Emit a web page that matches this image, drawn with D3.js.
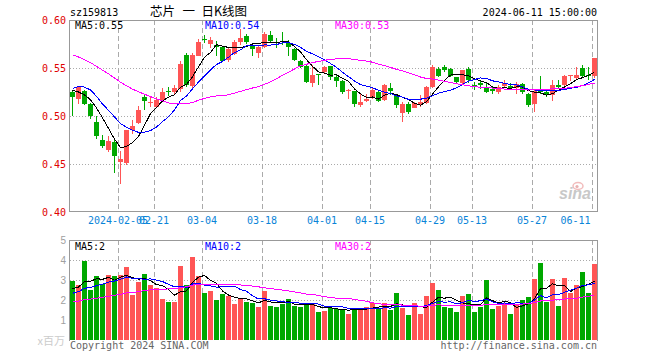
<!DOCTYPE html>
<html>
<head>
<meta charset="utf-8">
<script src="https://cdn.jsdelivr.net/npm/d3@7/dist/d3.min.js"></script>
<style>
  html, body { margin: 0; padding: 0; background: #fff; }
  svg { display: block; }
</style>
</head>
<body>
<div id="kline"></div>
<script>
(function () {
  const WIDTH  = 660;
  const HEIGHT = 360;
  const MONO   = "'DejaVu Sans Mono', 'Liberation Mono', monospace";
  const RED    = "#ff5555";
  const GREEN  = "#00a800";

  const code     = "sz159813";
  const stamp    = "2024-06-11 15:00:00";
  const titleParts = ["芯片", "一", "日K线图"];

  const dates = [
    "2024-01-24","2024-01-25","2024-01-26","2024-01-29","2024-01-30","2024-01-31","2024-02-01","2024-02-02",
    "2024-02-05","2024-02-06","2024-02-07","2024-02-08","2024-02-19","2024-02-20","2024-02-21","2024-02-22",
    "2024-02-23","2024-02-26","2024-02-27","2024-02-28","2024-02-29","2024-03-01","2024-03-04","2024-03-05",
    "2024-03-06","2024-03-07","2024-03-08","2024-03-11","2024-03-12","2024-03-13","2024-03-14","2024-03-15",
    "2024-03-18","2024-03-19","2024-03-20","2024-03-21","2024-03-22","2024-03-25","2024-03-26","2024-03-27",
    "2024-03-28","2024-03-29","2024-04-01","2024-04-02","2024-04-03","2024-04-08","2024-04-09","2024-04-10",
    "2024-04-11","2024-04-12","2024-04-15","2024-04-16","2024-04-17","2024-04-18","2024-04-19","2024-04-22",
    "2024-04-23","2024-04-24","2024-04-25","2024-04-26","2024-04-29","2024-04-30","2024-05-06","2024-05-07",
    "2024-05-08","2024-05-09","2024-05-10","2024-05-13","2024-05-14","2024-05-15","2024-05-16","2024-05-17",
    "2024-05-20","2024-05-21","2024-05-22","2024-05-23","2024-05-24","2024-05-27","2024-05-28","2024-05-29",
    "2024-05-30","2024-05-31","2024-06-03","2024-06-04","2024-06-05","2024-06-06","2024-06-07","2024-06-11"
  ];

  const open = [
    0.525,0.518,0.526,0.513,0.494,0.475,0.465,0.473,0.452,0.451,0.485,0.493,0.520,0.514,0.509,0.517,
    0.526,0.525,0.528,0.564,0.531,0.562,0.580,0.575,0.574,0.572,0.558,0.565,0.577,0.583,0.574,0.566,
    0.572,0.584,0.577,0.578,0.576,0.570,0.557,0.552,0.534,0.5435,0.546,0.552,0.541,0.536,0.526,0.526,
    0.511,0.516,0.520,0.525,0.517,0.529,0.522,0.503,0.512,0.508,0.512,0.514,0.530,0.549,0.551,0.549,
    0.541,0.534,0.549,0.532,0.534,0.530,0.528,0.525,0.531,0.531,0.529,0.533,0.523,0.512,0.527,0.525,
    0.522,0.532,0.532,0.542,0.540,0.550,0.543,0.542
  ];
  const high = [
    0.526,0.531,0.527,0.514,0.500,0.480,0.479,0.476,0.464,0.485,0.496,0.510,0.522,0.520,0.520,0.529,
    0.530,0.532,0.557,0.566,0.566,0.580,0.584,0.582,0.578,0.573,0.572,0.579,0.591,0.585,0.576,0.573,
    0.587,0.589,0.581,0.588,0.579,0.571,0.558,0.553,0.553,0.544,0.552,0.552,0.543,0.537,0.528,0.526,
    0.523,0.523,0.529,0.527,0.533,0.534,0.523,0.515,0.515,0.515,0.522,0.531,0.553,0.551,0.553,0.550,
    0.541,0.548,0.551,0.535,0.537,0.535,0.530,0.532,0.537,0.534,0.535,0.534,0.524,0.527,0.542,0.526,
    0.537,0.538,0.543,0.543,0.551,0.553,0.551,0.560
  ];
  const low = [
    0.500,0.512,0.511,0.497,0.476,0.467,0.462,0.441,0.429,0.449,0.481,0.492,0.506,0.509,0.508,0.515,
    0.521,0.523,0.525,0.530,0.529,0.562,0.576,0.571,0.563,0.556,0.556,0.564,0.574,0.575,0.562,0.560,
    0.571,0.577,0.571,0.574,0.563,0.557,0.550,0.534,0.530,0.532,0.545,0.537,0.530,0.523,0.518,0.509,
    0.509,0.515,0.518,0.515,0.516,0.522,0.508,0.494,0.502,0.508,0.509,0.513,0.529,0.541,0.546,0.541,
    0.534,0.533,0.534,0.527,0.528,0.524,0.523,0.523,0.530,0.527,0.523,0.523,0.509,0.504,0.523,0.520,
    0.516,0.529,0.531,0.536,0.539,0.541,0.537,0.540
  ];
  const close = [
    0.520,0.530,0.513,0.500,0.479,0.469,0.474,0.458,0.455,0.485,0.490,0.506,0.516,0.515,0.517,0.525,
    0.525,0.529,0.554,0.532,0.564,0.577,0.579,0.579,0.572,0.557,0.570,0.577,0.581,0.577,0.570,0.572,
    0.585,0.578,0.576,0.577,0.572,0.558,0.551,0.535,0.543,0.543,0.551,0.541,0.536,0.525,0.527,0.512,
    0.515,0.518,0.527,0.516,0.532,0.526,0.511,0.512,0.504,0.514,0.515,0.530,0.551,0.542,0.548,0.542,
    0.535,0.548,0.537,0.5315,0.532,0.525,0.526,0.530,0.534,0.529,0.533,0.525,0.511,0.526,0.525,0.522,
    0.532,0.530,0.542,0.5425,0.543,0.542,0.542,0.560
  ];
  // volume, millions
  const volume = [
    2.97,2.77,3.93,2.48,3.18,2.81,3.27,3.18,3.27,3.63,2.24,2.89,3.32,2.77,2.61,2.03,
    1.90,1.90,3.68,2.74,4.17,3.22,2.33,2.44,2.00,2.28,2.19,1.78,2.11,1.90,1.83,1.65,
    2.44,1.70,1.65,1.82,2.03,1.70,1.65,1.78,1.78,1.42,1.45,1.62,1.53,1.57,1.29,1.62,
    1.57,1.67,1.83,1.53,1.86,1.49,2.33,1.58,1.24,1.86,1.29,2.18,2.87,2.48,1.63,1.58,
    1.39,2.18,2.28,1.39,1.63,3.02,1.53,1.68,1.83,1.29,1.78,1.98,2.15,3.07,3.86,1.90,
    3.07,1.68,3.12,2.33,2.77,3.42,2.33,3.81
  ];

  // sessions before the window, estimated from where the MA lines start
  const priorClose = [
    0.600,0.597,0.594,0.592,0.590,0.588,0.587,0.588,0.596,0.594,0.592,0.590,0.591,0.589,0.588,0.585,
    0.560,0.545,0.535,0.525,0.510,0.520,0.530,0.545,0.550,0.538,0.528,0.525,0.522
  ];
  const priorVolume = [
    1.6,1.5,1.7,1.8,1.6,1.5,1.7,1.9,1.6,1.5,1.8,1.7,1.6,1.9,1.7,1.6,1.8,1.7,1.6,1.8,
    2.0,2.2,2.1,2.3,2.0,2.3,2.6,2.4,2.5
  ];

  const tickDates  = ["2024-02-05","2024-02-21","2024-03-04","2024-03-18","2024-04-01",
                      "2024-04-15","2024-04-29","2024-05-13","2024-05-27","2024-06-11"];
  const priceTicks = [0.40, 0.45, 0.50, 0.55, 0.60];
  const volTicks   = [1, 2, 3, 4, 5];
  const maPeriods  = [5, 10, 30];
  const maColors   = ["#000000", "#0000ff", "#ff00ff"];
  const priceMaLabels = ["MA5:0.55", "MA10:0.54", "MA30:0.53"];
  const volMaLabels   = ["MA5:2", "MA10:2", "MA30:2"];

  const N = close.length;
  const PLOT = { left: 70, right: 70 + 6 * N };

  const svg = d3.select("#kline").append("svg")
    .attr("width", WIDTH)
    .attr("height", HEIGHT)
    .attr("shape-rendering", "crispEdges");

  svg.append("rect").attr("width", WIDTH).attr("height", HEIGHT).attr("fill", "#fff");

  const x = d3.scaleLinear().domain([0, N]).range([PLOT.left, PLOT.right]);
  const yP = d3.scaleLinear().domain([0.40, 0.60]).range([212, 20]);
  const yV = d3.scaleLinear().domain([0, 5]).range([340, 240]);
  const step = x(1) - x(0);
  const bodyW = step - 1;
  const mid = i => x(i) + bodyW / 2;
  const idxOf = d => dates.indexOf(d);

  function movingAvg(prior, vals, n) {
    const all = prior.concat(vals);
    const off = prior.length;
    return vals.map((_, i) => d3.mean(all.slice(off + i - n + 1, off + i + 1)));
  }

  // ---- grid + frames ----
  const grid = svg.append("g");
  [0.45, 0.50, 0.55].forEach(v => {
    grid.append("line")
      .attr("x1", PLOT.left).attr("x2", PLOT.right)
      .attr("y1", Math.round(yP(v)) + 0.5).attr("y2", Math.round(yP(v)) + 0.5)
      .attr("stroke", "#aaa").attr("stroke-dasharray", "1,2");
  });
  volTicks.filter(v => v < 5).forEach(v => {
    grid.append("line")
      .attr("x1", PLOT.left).attr("x2", PLOT.right)
      .attr("y1", Math.round(yV(v)) + 0.5).attr("y2", Math.round(yV(v)) + 0.5)
      .attr("stroke", "#aaa").attr("stroke-dasharray", "1,2");
  });
  tickDates.forEach(d => {
    const gx = x(idxOf(d)) + 0.5;
    grid.append("line")
      .attr("x1", gx).attr("x2", gx).attr("y1", yP(0.60)).attr("y2", yP(0.40))
      .attr("stroke", "#aaa").attr("stroke-dasharray", "5,3");
    grid.append("line")
      .attr("x1", gx).attr("x2", gx).attr("y1", yV(5)).attr("y2", yV(0))
      .attr("stroke", "#aaa").attr("stroke-dasharray", "5,3");
  });

  const frame = svg.append("g").attr("stroke", "#999").attr("fill", "none");
  frame.append("path")
    .attr("d", `M${PLOT.left - 0.5},${yP(0.60) + 0.5}H${PLOT.right - 0.5}V${yP(0.40) - 0.5}H${PLOT.left - 0.5}Z`);
  frame.append("path")
    .attr("d", `M${PLOT.left - 0.5},${yV(0) + 1}V${yV(5) + 0.5}H${PLOT.right - 0.5}V${yV(0) + 1}`);

  // ---- candles ----
  const candles = svg.append("g");
  d3.range(N).forEach(i => {
    const up = close[i] > open[i];
    const col = up ? RED : GREEN;
    candles.append("rect")
      .attr("x", x(i) + Math.floor(bodyW / 2)).attr("width", 1)
      .attr("y", yP(high[i])).attr("height", Math.max(1, yP(low[i]) - yP(high[i])))
      .attr("fill", col);
    const top = yP(Math.max(open[i], close[i]));
    const bot = yP(Math.min(open[i], close[i]));
    candles.append("rect")
      .attr("x", x(i)).attr("width", bodyW)
      .attr("y", top).attr("height", Math.max(1, bot - top))
      .attr("fill", col);
  });

  // ---- volume bars ----
  svg.append("g").selectAll("rect")
    .data(volume)
    .join("rect")
    .attr("x", (d, i) => x(i))
    .attr("width", bodyW)
    .attr("y", d => yV(d))
    .attr("height", d => yV(0) - yV(d))
    .attr("fill", (d, i) => close[i] > open[i] ? RED : GREEN);

  // ---- moving averages ----
  maPeriods.forEach((n, k) => {
    const pm = movingAvg(priorClose, close, n);
    svg.append("path")
      .attr("d", d3.line().x((d, i) => mid(i)).y(d => yP(d))(pm))
      .attr("fill", "none").attr("stroke", maColors[k]).attr("stroke-width", 1);
    const vm = movingAvg(priorVolume, volume, n);
    svg.append("path")
      .attr("d", d3.line().x((d, i) => mid(i)).y(d => yV(d))(vm))
      .attr("fill", "none").attr("stroke", maColors[k]).attr("stroke-width", 1);
  });

  // ---- axes text ----
  const pAxis = svg.append("g")
    .attr("transform", `translate(${PLOT.left},0)`)
    .call(d3.axisLeft(yP).tickValues(priceTicks).tickFormat(d3.format(".2f")).tickSize(0).tickPadding(4));
  pAxis.select(".domain").remove();
  pAxis.selectAll("text").attr("fill", "#e00000").attr("font-family", MONO).attr("font-size", 10);

  const vAxis = svg.append("g")
    .attr("transform", `translate(${PLOT.left - 4},0)`)
    .call(d3.axisLeft(yV).tickValues(volTicks).tickFormat(d3.format("d")).tickSize(0).tickPadding(0));
  vAxis.select(".domain").remove();
  vAxis.selectAll("text").attr("fill", "#a0a0a0")
    .attr("font-family", "'Liberation Sans', Arial, sans-serif").attr("font-size", 10);

  tickDates.forEach((d, k) => {
    const last = k === tickDates.length - 1;
    svg.append("text")
      .attr("x", last ? x(idxOf(d)) - 1.5 : x(idxOf(d)))
      .attr("y", 224)
      .attr("text-anchor", last ? "end" : "middle")
      .attr("font-family", MONO).attr("font-size", 10)
      .attr("fill", "#0a84d8")
      .text(k === 0 ? d : d.slice(5));
  });

  // ---- labels ----
  const txt = (tx, ty, s, fill, anchor) => svg.append("text")
    .attr("x", tx).attr("y", ty)
    .attr("text-anchor", anchor || "start")
    .attr("font-family", MONO).attr("font-size", 10)
    .attr("fill", fill).text(s);

  txt(PLOT.left, 16, code, "#000");
  txt(PLOT.right - 1, 16, stamp, "#000", "end");
  [150, 182.5, 201.5].forEach((tx, k) => {
    svg.append("text")
      .attr("x", tx).attr("y", 16)
      .attr("font-family", "'Noto Sans CJK SC', sans-serif").attr("font-size", 12.5)
      .attr("fill", "#000").text(titleParts[k]);
  });

  const labelX = [PLOT.left + 5, PLOT.left + 135, PLOT.left + 265];
  priceMaLabels.forEach((s, k) => txt(labelX[k], 29, s, maColors[k]));
  volMaLabels.forEach((s, k) => txt(labelX[k], 250, s, maColors[k]));

  txt(PLOT.left, 349, "Copyright 2024 SINA.COM", "#666");
  txt(PLOT.right - 1, 349, "http://finance.sina.com.cn", "#666", "end");
  svg.append("text")
    .attr("x", 65).attr("y", 345).attr("text-anchor", "end")
    .attr("font-family", "'Noto Sans CJK SC', sans-serif").attr("font-size", 11)
    .attr("fill", "#ccc").text("x百万");

  // sina watermark
  const logo = svg.append("g").attr("shape-rendering", "auto");
  logo.append("ellipse").attr("cx", 578).attr("cy", 186).attr("rx", 5).attr("ry", 3.5)
    .attr("fill", "none").attr("stroke", "#f2bcbc").attr("stroke-width", 1.5);
  logo.append("circle").attr("cx", 577).attr("cy", 186.5).attr("r", 1.6).attr("fill", "#e9b0b0");
  logo.append("text")
    .attr("x", 559).attr("y", 199)
    .attr("font-family", "'Liberation Sans', Arial, sans-serif")
    .attr("font-size", 16).attr("font-weight", "bold").attr("font-style", "italic")
    .attr("fill", "#c8c8c8").text("sina");
})();
</script>
</body>
</html>
